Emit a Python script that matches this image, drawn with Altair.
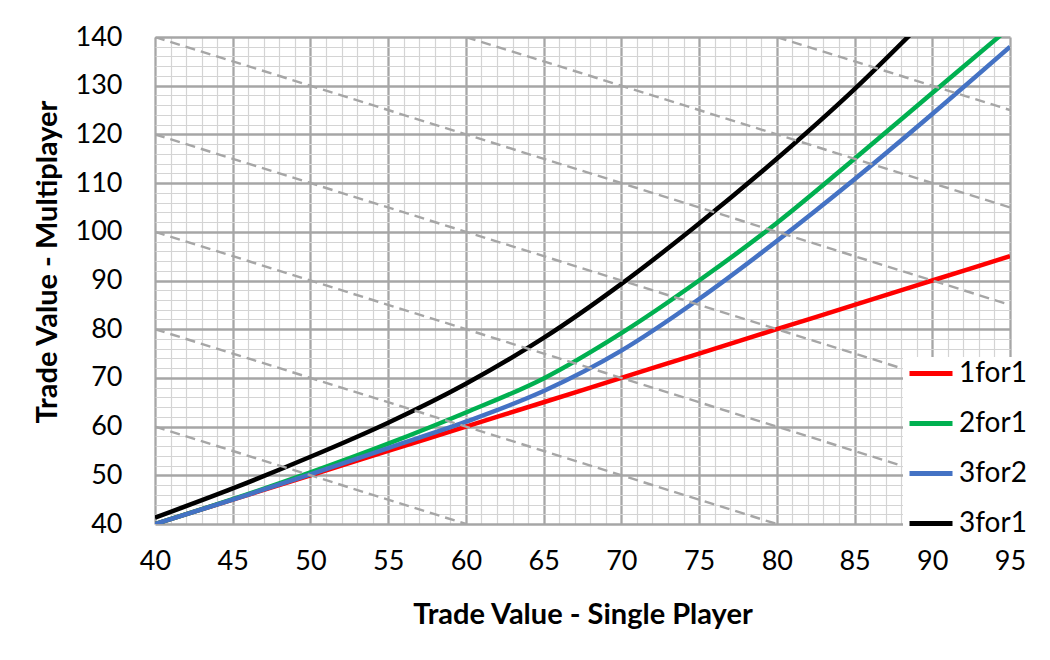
import altair as alt
import pandas as pd

# ---- data ----
x_values = [40, 45, 50, 55, 60, 65, 70, 75, 80, 85, 90, 95]
one_for_one = [40, 45, 50, 55, 60, 65, 70, 75, 80, 85, 90, 95]
two_for_one = [40, 45.1, 50.6, 56.5, 62.9, 69.9, 79.2, 90.0, 101.8, 115.0, 128.5, 142.0]
three_for_two = [40, 45.0, 50.2, 55.6, 61.0, 67.3, 75.6, 86.2, 98.1, 110.8, 124.2, 138.0]
three_for_one = [41.3, 47.3, 53.8, 60.8, 68.8, 78.2, 89.3, 101.7, 115.0, 129.3, 145.0, 161.0]

series_names = ["1for1", "2for1", "3for2", "3for1"]
series_colors = ["#FF0000", "#00B050", "#4472C4", "#000000"]

# constant-sum guide lines (x + y = c)
iso_sums = [100, 120, 140, 160, 180, 200, 220]

x_min, x_max = 40, 95
y_min, y_max = 40, 140

rows = []
for rank, (name, vals) in enumerate(zip(series_names, [one_for_one, two_for_one, three_for_two, three_for_one])):
    for i, (x, y) in enumerate(zip(x_values, vals)):
        rows.append({"series": name, "rank": rank, "x": x, "y": y, "order": i})
curves = pd.DataFrame(rows)

iso_rows = []
for c in iso_sums:
    xa = max(x_min, c - y_max)
    xb = min(x_max, c - y_min)
    iso_rows.append({"sum": c, "x": xa, "y": c - xa, "order": 0})
    iso_rows.append({"sum": c, "x": xb, "y": c - xb, "order": 1})
iso = pd.DataFrame(iso_rows)

FONT = "Lato"
MAJOR = "#A6A6A6"
MINOR = "#D4D4D4"
TICK_SIZE = 27
TITLE_SIZE = 29

x_axis = alt.Axis(
    values=list(range(x_min, x_max + 1)),
    tickCount=500,
    format="d",
    labelExpr="datum.value % 5 === 0 ? datum.label : ''",
    labelOverlap=False,
    labelFlush=False,
    grid=True,
    gridColor={"condition": {"test": "datum.value % 5 === 0", "value": MAJOR}, "value": MINOR},
    gridWidth={"condition": {"test": "datum.value % 5 === 0", "value": 2.3}, "value": 1.2},
    ticks=False,
    tickSize=0,
    domain=False,
    labelPadding=24,
    labelFont=FONT,
    labelFontSize=TICK_SIZE,
    labelColor="#000000",
    title="Trade Value - Single Player",
    titleFont=FONT,
    titleFontSize=TITLE_SIZE,
    titleFontWeight="bold",
    titleColor="#000000",
    titleX=427.5,
    titleY=99,
    titleAlign="center",
    titleBaseline="alphabetic",
)

y_axis = alt.Axis(
    values=list(range(y_min, y_max + 1, 2)),
    tickCount=500,
    format="d",
    labelExpr="datum.value % 10 === 0 ? datum.label : ''",
    labelOverlap=False,
    labelFlush=False,
    grid=True,
    gridColor={"condition": {"test": "datum.value % 10 === 0", "value": MAJOR}, "value": MINOR},
    gridWidth={"condition": {"test": "datum.value % 10 === 0", "value": 2.3}, "value": 1.2},
    ticks=False,
    tickSize=0,
    domain=False,
    labelPadding=33,
    labelFont=FONT,
    labelFontSize=TICK_SIZE,
    labelColor="#000000",
    title="Trade Value - Multiplayer",
    titleFont=FONT,
    titleFontSize=TITLE_SIZE,
    titleFontWeight="bold",
    titleColor="#000000",
    titleAngle=270,
    titleX=-99,
    titleY=224.5,
    titleAlign="center",
    titleBaseline="alphabetic",
)

x_scale = alt.Scale(domain=[x_min, x_max], nice=False, zero=False)
y_scale = alt.Scale(domain=[y_min, y_max], nice=False, zero=False)

lines = alt.Chart(curves).mark_line(strokeWidth=4.5, clip=True, interpolate="monotone").encode(
    x=alt.X("x:Q", scale=x_scale, axis=x_axis),
    y=alt.Y("y:Q", scale=y_scale, axis=y_axis),
    color=alt.Color(
        "series:N",
        scale=alt.Scale(domain=series_names, range=series_colors),
        sort=series_names,
        legend=alt.Legend(
            title=None,
            orient="none",
            legendX=748,
            legendY=320,
            fillColor="white",
            padding=4,
            symbolType="stroke",
            symbolStrokeWidth=5,
            symbolSize=1849,
            clipHeight=25,
            rowPadding=21,
            labelOffset=4,
            labelFont=FONT,
            labelFontSize=28,
            labelColor="#000000",
        ),
    ),
    order=alt.Order("order:Q"),
)

dashed = alt.Chart(iso).mark_line(
    color="#A6A6A6", strokeWidth=2.4, strokeDash=[10, 6], clip=True
).encode(
    x=alt.X("x:Q", scale=x_scale, axis=x_axis),
    y=alt.Y("y:Q", scale=y_scale, axis=y_axis),
    detail="sum:N",
    order=alt.Order("order:Q"),
)

chart = (
    alt.layer(lines, dashed)
    .properties(
        width=855,
        height=487,
        autosize=alt.AutoSizeParams(type="none"),
        padding={"left": 147, "top": 29, "right": 32, "bottom": 128},
        background="white",
    )
    .configure_view(stroke=None)
)

chart.save("out.html", embed_options={"renderer": "svg", "actions": False})
